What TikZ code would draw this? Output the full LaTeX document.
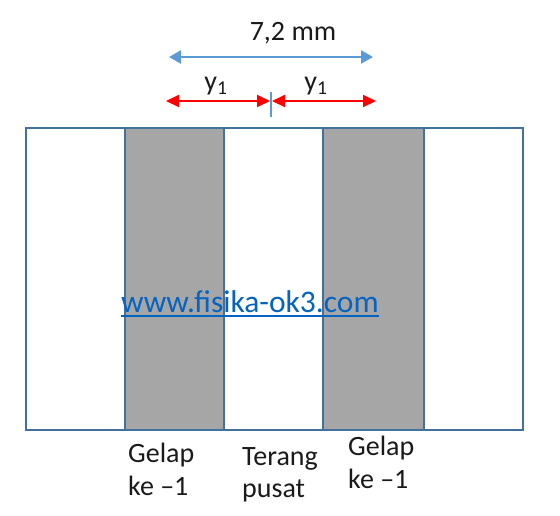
\documentclass[tikz,border=0pt]{standalone}
\usepackage{fontspec}
\setmainfont{Carlito}
\usetikzlibrary{arrows.meta}
\definecolor{frame}{HTML}{41719C}
\definecolor{dark}{HTML}{A6A6A6}
\definecolor{lblue}{HTML}{5B9BD5}
\definecolor{link}{HTML}{0563C1}
\definecolor{txt}{HTML}{1A1A1A}
\begin{document}
\begin{tikzpicture}[x=1pt,y=-1pt,
  strip/.style={draw=frame,line width=2.4pt},
  lab/.style={anchor=base west,inner sep=0pt,font=\fontsize{28}{32}\selectfont,text=txt},
  bluearrow/.style={lblue,line width=2.4pt,{Triangle[length=12pt,width=13pt]}-{Triangle[length=12pt,width=13pt]}},
  redarrow/.style={red,line width=2pt,{Triangle[length=13pt,width=12pt]}-{Triangle[length=13pt,width=12pt]}}]
\useasboundingbox (0,0) rectangle (560,515);
% strips
\draw[strip,fill=white] (26,128) rectangle (125,430);
\draw[strip,fill=dark]  (125,128) rectangle (224,430);
\draw[strip,fill=white] (224,128) rectangle (323,430);
\draw[strip,fill=dark]  (323,128) rectangle (424,430);
\draw[strip,fill=white] (424,128) rectangle (523,430);
% dimension arrows
\coordinate (bl) at (169,57);
\coordinate (br) at (373,57);
\draw[bluearrow] (bl) -- (br);
\node[lab,anchor=base] (dim) at (293,40) {7,2 mm};
\coordinate (ll) at (166,101);
\coordinate (lm) at (270,101);
\coordinate (rm) at (272,101);
\coordinate (rr) at (376,101);
\draw[redarrow] (ll) -- (lm);
\draw[redarrow] (rm) -- (rr);
\coordinate (t1) at (271,92);
\coordinate (t2) at (271,117);
\draw[lblue,line width=1.1pt] (t1) -- (t2);
\node[lab,anchor=base] (y1a) at (216,90) {y\textsubscript{1}};
\node[lab,anchor=base] (y1b) at (316,90) {y\textsubscript{1}};
% watermark
\node[anchor=base west,inner sep=0pt,font=\fontsize{31.5}{34}\selectfont,text=link] (url) at (121,312) {www.fisika-ok3.com};
\draw[link,line width=1.5pt] ([yshift=-4pt]url.base west) -- ([yshift=-4pt]url.base east);
% labels
\node[lab] (g1a) at (128,462) {Gelap};
\node[lab] (g1b) at (128,495) {ke –1};
\node[lab] (ta) at (242,465) {Terang};
\node[lab] (tb) at (242,497) {pusat};
\node[lab] (g2a) at (348,455) {Gelap};
\node[lab] (g2b) at (348,488) {ke –1};
\end{tikzpicture}
\end{document}
